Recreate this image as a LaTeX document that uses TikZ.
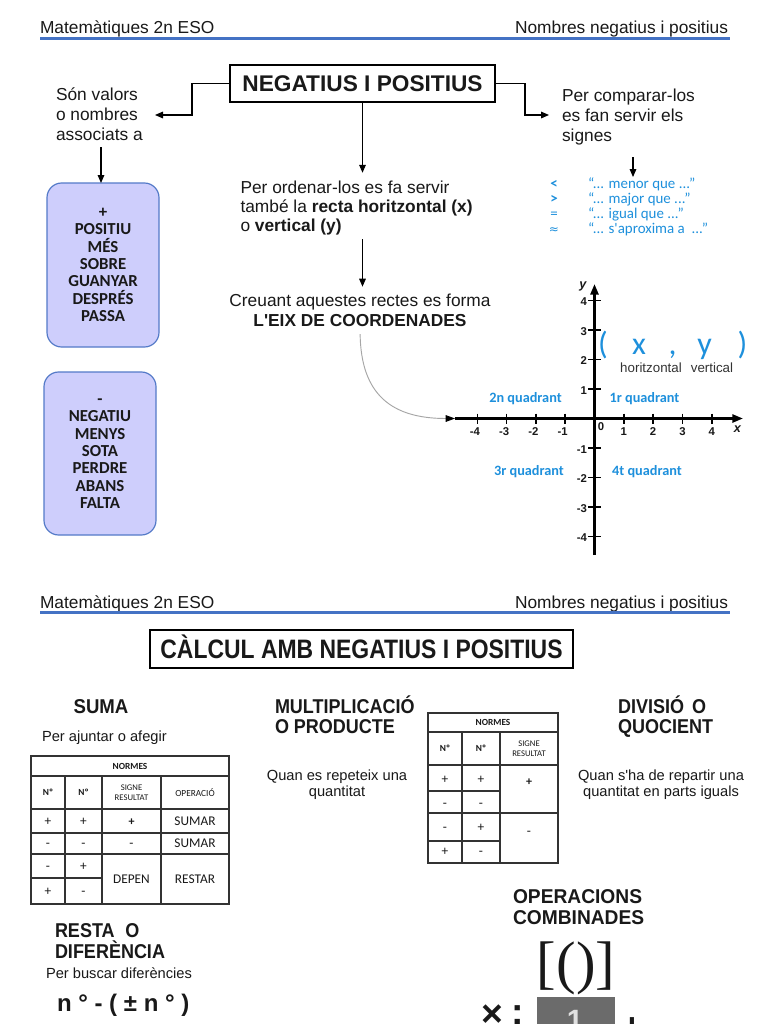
\documentclass[tikz,border=0pt]{standalone}
\usepackage{fontspec}
\usepackage{graphicx}
\setmainfont{Liberation Sans}
\newfontfamily\arialfont{Liberation Sans}
\newfontfamily\calfont{Carlito}
\newfontfamily\serfont{Liberation Serif}
\usetikzlibrary{arrows.meta}
\definecolor{hdrblue}{RGB}{68,114,196}
\definecolor{txtblue}{RGB}{30,144,220}
\definecolor{boxfill}{RGB}{206,206,252}
\definecolor{boxedge}{RGB}{84,122,200}
\definecolor{ink}{RGB}{25,25,25}
\newcommand\fsz[2]{\fontsize{#1}{#2}\selectfont}
\newcommand\hsq[2]{\scalebox{#1}[1]{#2}}
\newcommand\sq{{\arialfont'}}
\begin{document}
\begin{tikzpicture}[x=0.75pt,y=-0.75pt,
  every node/.style={inner sep=0pt, outer sep=0pt, text=ink},
  hdrtxt/.style={font=\fsz{13}{15}},
  body/.style={font=\fsz{13}{15}, align=left, anchor=north west},
  arr/.style={line width=0.8pt, -{Triangle[length=6pt,width=5pt]}},
  axisline/.style={line width=1.9pt, -{Triangle[length=8pt,width=6pt]}},
  tickmark/.style={line width=1.2pt},
  ticklab/.style={font=\bfseries\fsz{8.5}{10}, anchor=base},
  quad/.style={font=\calfont\bfseries\fsz{10.7}{12}, text=txtblue, anchor=base},
  cmp/.style={font=\calfont\fsz{11.2}{12}, text=txtblue, anchor=base west},
  cmpsym/.style={font=\calfont\fsz{11.2}{12}, text=txtblue, anchor=base},
  bigblue/.style={font=\calfont\fsz{24}{26}, text=txtblue, anchor=base},
  wordbox/.style={draw=boxedge, line width=0.9pt, fill=boxfill, rounded corners=11pt, align=center, font=\calfont\bfseries\fsz{12.6}{13}},
  titlebox/.style={draw=black, line width=1.5pt, fill=white, font=\bfseries\fsz{17}{20}},
  heading/.style={font=\bfseries\fsz{15}{18}, anchor=base west},
  tabline/.style={line width=0.8pt, draw=black!80},
  cell/.style={font=\calfont\fsz{10}{11}, text height=6.5pt, text depth=0pt},
  tinycell/.style={font=\calfont\fsz{6.5}{7.5}, align=center},
]
\clip (0,0) rectangle (768,1024);
\fill[white] (0,0) rectangle (768,1024);

% ---------- page 1 header ----------
\node[hdrtxt, anchor=base west] (h1l) at (40,34) {Matemàtiques 2n ESO};
\node[hdrtxt, anchor=base east] (h1r) at (728,34) {Nombres negatius i positius};
\draw[hdrblue, line width=1.6pt] (40,38.5) -- (730,38.5);

% ---------- title ----------
\node[titlebox, minimum width=198.75pt, minimum height=27.5pt] (t1) at (362.5,83.3) {NEGATIUS I POSITIUS};

% ---------- texts ----------
\node[body] (lt) at (56,88) {Són valors\\o nombres\\associats a};
\node[body] (rt) at (562,88.5) {Per comparar-los\\es fan servir els\\signes};
\node[body, font=\fsz{13}{14.25}] (ct) at (240.5,180.5) {Per ordenar-los es fa servir\\també la \textbf{recta horitzontal (x)}\\o \textbf{vertical (y)}};
\node[anchor=north, align=center, font=\fsz{13}{14.6}] (cr) at (360,294) {Creuant aquestes rectes es forma\\\textbf{L\sq EIX DE COORDENADES}};

% ---------- connectors ----------
\coordinate (la) at (155,115);
\coordinate (ra) at (549,115);
\draw[arr] (t1.west) -| (192,115) -- (la);
\draw[arr] (t1.east) -| (525,115) -- (ra);
\draw[arr, shorten >=5.8pt] (t1.south) -- (t1.south |- ct.north);
\draw[arr, shorten <=3.3pt, shorten >=5.5pt] (t1.south |- ct.south) -- (t1.south |- cr.north);

% ---------- word boxes ----------
\node[wordbox, minimum width=84pt, minimum height=123pt] (b1) at (103,265) {+\\POSITIU\\MÉS\\SOBRE\\GUANYAR\\DESPRÉS\\PASSA};
\node[wordbox, minimum width=84pt, minimum height=122.25pt] (b2) at (100,453.5) {-\\NEGATIU\\MENYS\\SOTA\\PERDRE\\ABANS\\FALTA};
\coordinate (lts) at (101,147);
\draw[arr] (lts) -- (lts |- b1.north);

% ---------- comparisons ----------
\coordinate (rts) at (633,157);
\coordinate (rte) at (633,177);
\draw[arr] (rts) -- (rte);
\node[cmpsym, font=\calfont\bfseries\fsz{11.2}{12}] (s1) at (554,188.5) {<};
\node[cmpsym, font=\calfont\bfseries\fsz{11.2}{12}] (s2) at (554,203.5) {>};
\node[cmpsym] (s3) at (554,218.5) {=};
\node[cmpsym, font=\fontspec{DejaVu Sans}\fsz{9}{12}] (s4) at (554,233.5) {≈};
\node[cmp] (c1) at (588,188.5) {“... menor que ...”};
\node[cmp] (c2) at (588,203.5) {“... major que ...”};
\node[cmp] (c3) at (588,218.5) {“... igual que ...”};
\node[cmp] (c4) at (588,233.5) {“... s'aproxima a \ ...”};

% ---------- axes ----------
\coordinate (xl) at (455,418.5);
\coordinate (xr) at (743,418.5);
\coordinate (yt) at (594.5,284);
\coordinate (yb) at (594.5,555);
\draw[gray!70, line width=0.7pt, shorten <=6pt, -{Triangle[length=7pt,width=5pt,color=black]}] (cr.south) .. controls (361,395) and (392,418.5) .. (xl);
\draw[axisline] (xl) -- (xr);
\draw[axisline] (yb) -- (yt);
\foreach \i in {-4,-3,-2,-1,1,2,3,4} {
  \draw[tickmark] ({594.5+29.3*\i},413.5) -- ({594.5+29.3*\i},423.5);
  \draw[tickmark] (588,{418.5-29.5*\i}) -- (601,{418.5-29.5*\i});
}
\foreach \i in {-4,-3,-2,-1} {
  \node[ticklab] (xt\i) at ({592+29.3*\i},435) {\i};
}
\foreach \i in {1,2,3,4} {
  \node[ticklab] (xt\i) at ({594.5+29.3*\i},435) {\i};
}
\foreach \i in {-4,-3,-2,-1,1,2,3,4} {
  \node[ticklab, anchor=base east] (yt\i) at (587,{423.5-29.5*\i}) {\i};
}
\node[ticklab] (zero) at (601,430) {0};
\node[ticklab, font=\bfseries\itshape\fsz{9.5}{10}] (xname) at (737.5,432) {x};
\node[ticklab, font=\bfseries\itshape\fsz{9.5}{10}] (yname) at (583,288) {y};

\node[bigblue] (p1) at (603,354) {(};
\node[bigblue] (p2) at (639,354) {x};
\node[bigblue] (p3) at (672.5,354) {,};
\node[bigblue] (p4) at (704.5,354) {y};
\node[bigblue] (p5) at (742.5,354) {)};
\node[font=\fsz{10}{12}, text=black!80, anchor=base] (hz) at (651,372) {horitzontal};
\node[font=\fsz{10}{12}, text=black!80, anchor=base] (vt) at (712,372) {vertical};

\node[quad] (q2) at (525.5,402) {2n quadrant};
\node[quad] (q1) at (644.5,402) {1r quadrant};
\node[quad] (q3) at (529,475) {3r quadrant};
\node[quad] (q4) at (647,475) {4t quadrant};

% ---------- page 2 header ----------
\node[hdrtxt, anchor=base west] (h2l) at (40,608) {Matemàtiques 2n ESO};
\node[hdrtxt, anchor=base east] (h2r) at (728,608) {Nombres negatius i positius};
\draw[hdrblue, line width=1.6pt] (40,612.5) -- (730,612.5);

\node[titlebox, minimum width=317.25pt, minimum height=28.5pt, text height=14.5pt, text depth=0pt] (t2) at (361.5,649) {\hsq{0.86}{\fsz{20}{24}\bfseries CÀLCUL AMB NEGATIUS I POSITIUS}};

% ---------- headings ----------
\node[heading, anchor=base] (hsuma) at (101,713) {\hsq{0.93}{SUMA}};
\node[heading] (hmul1) at (275,713) {\hsq{0.9}{MULTIPLICACIÓ}};
\node[heading] (hmul2) at (275,733) {\hsq{0.9}{O PRODUCTE}};
\node[heading] (hdiv1) at (618,713) {\hsq{0.9}{DIVISIÓ\hspace{0.45em}O}};
\node[heading] (hdiv2) at (618,733) {\hsq{0.9}{QUOCIENT}};
\node[heading] (hop1) at (513,903) {\hsq{0.96}{OPERACIONS}};
\node[heading] (hop2) at (513,924) {\hsq{0.96}{COMBINADES}};
\node[heading] (hres1) at (55,937) {\hsq{0.9}{RESTA\hspace{0.6em}O}};
\node[heading] (hres2) at (55,958) {\hsq{0.9}{DIFERÈNCIA}};

\node[anchor=base west, font=\fsz{11}{13}] (psuma) at (42,741) {Per ajuntar o afegir};
\node[anchor=north, align=center, font=\fsz{11}{12}] (pmul) at (337,769.5) {Quan es repeteix una\\quantitat};
\node[anchor=north, align=center, font=\fsz{11}{12}] (pdiv) at (661,769.5) {Quan s\sq ha de repartir una\\quantitat en parts iguals};
\node[anchor=base west, font=\fsz{11}{13}] (pres) at (46,978) {Per buscar diferències};
\node[anchor=base west, font=\bfseries\fsz{18}{20}] (nform) at (57,1011) {n ° - ( ± n ° )};

% ---------- suma table ----------
\draw[tabline] (31,756) rectangle (229,904);
\draw[tabline] (31,776) -- (229,776);
\draw[tabline] (31,809) -- (229,809);
\draw[tabline] (31,833) -- (229,833);
\draw[tabline] (31,854) -- (229,854);
\draw[tabline] (31,878) -- (102,878);
\foreach \xx in {65,102,161} \draw[tabline] (\xx,776) -- (\xx,904);
\node[font=\calfont\bfseries\fsz{7}{8}] (sn) at (130,766) {NORMES};
\node[tinycell, font=\calfont\bfseries\fsz{7}{8}] (sh1) at (48,792.5) {Nº};
\node[tinycell, font=\calfont\bfseries\fsz{7}{8}] (sh2) at (83.5,792.5) {Nº};
\node[tinycell] (sh3) at (131.5,792.5) {SIGNE\\RESULTAT};
\node[font=\calfont\fsz{7}{8}] (sh4) at (195,792.5) {OPERACIÓ};
\node[cell] (s11) at (48,821) {+};
\node[cell] (s12) at (83.5,821) {+};
\node[cell, font=\calfont\bfseries\fsz{9}{10}] (s13) at (131.5,821) {+};
\node[cell] (s14) at (195,821) {SUMAR};
\node[cell] (s21) at (48,843.5) {-};
\node[cell] (s22) at (83.5,843.5) {-};
\node[cell] (s23) at (131.5,843.5) {-};
\node[cell] (s24) at (195,843.5) {SUMAR};
\node[cell] (s31) at (48,866) {-};
\node[cell] (s32) at (83.5,866) {+};
\node[cell] (s41) at (48,891) {+};
\node[cell] (s42) at (83.5,891) {-};
\node[cell] (s33) at (131.5,879) {DEPEN};
\node[cell] (s34) at (195,879) {RESTAR};

% ---------- multiplication table ----------
\draw[tabline] (428,713) rectangle (558,863);
\draw[tabline] (428,732) -- (558,732);
\draw[tabline] (428,765) -- (558,765);
\draw[tabline] (428,791) -- (500,791);
\draw[tabline] (428,813) -- (558,813);
\draw[tabline] (428,841) -- (500,841);
\foreach \xx in {462,500} \draw[tabline] (\xx,732) -- (\xx,863);
\node[font=\calfont\bfseries\fsz{7}{8}] (mn) at (493,722.5) {NORMES};
\node[tinycell, font=\calfont\bfseries\fsz{7}{8}] (mh1) at (445,748.5) {Nº};
\node[tinycell, font=\calfont\bfseries\fsz{7}{8}] (mh2) at (481,748.5) {Nº};
\node[tinycell] (mh3) at (529,748.5) {SIGNE\\RESULTAT};
\node[cell] (m11) at (445,779) {+};
\node[cell] (m12) at (481,779) {+};
\node[cell] (m21) at (445,803) {-};
\node[cell] (m22) at (481,803) {-};
\node[cell, font=\calfont\bfseries\fsz{9}{10}] (m13) at (529,781) {+};
\node[cell] (m31) at (445,827) {-};
\node[cell] (m32) at (481,827) {+};
\node[cell] (m41) at (445,851) {+};
\node[cell] (m42) at (481,851) {-};
\node[cell] (m33) at (529,831) {-};

% ---------- combined operations picture ----------
\node[font=\serfont\fsz{44}{44}, anchor=base] (brk) at (576,982) {[()]};
\node[fill=black!58, minimum width=58.5pt, minimum height=30pt, anchor=north west] (gbox) at (537,997) {};
\node[font=\bfseries\fsz{22}{22}, text=black!12, anchor=base] (one) at (575,1030) {1};
\node[font=\bfseries\fsz{28}{28}, anchor=base] (tms) at (492,1026) {×};
\node[font=\bfseries\fsz{28}{28}, anchor=base] (cln) at (518,1024) {:};
\node[font=\bfseries\fsz{28}{28}, anchor=base] (pls) at (632,1039) {+};
\end{tikzpicture}
\end{document}
